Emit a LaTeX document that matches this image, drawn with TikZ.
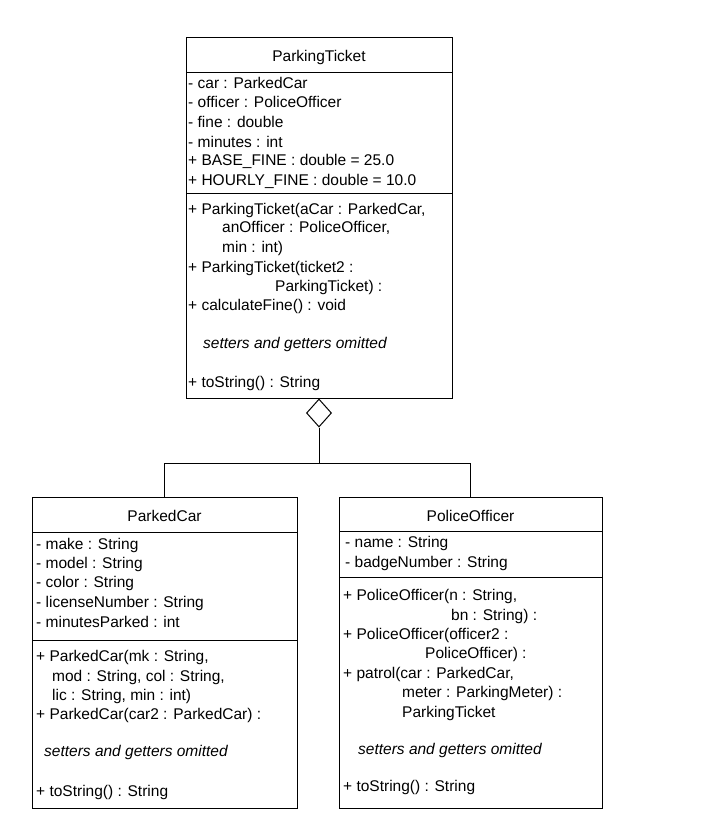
\documentclass[tikz,border=0pt]{standalone}
\usepackage{fontspec}
\setmainfont{Liberation Sans}
\usetikzlibrary{shapes.geometric}
\begin{document}
\begin{tikzpicture}[x=1pt,y=-1pt,
  box/.style={draw,line width=1pt,rectangle,inner sep=0pt},
  t/.style={anchor=west,inner sep=0pt,font=\fontsize{15.5}{18}\selectfont},
  ttl/.style={inner sep=0pt,font=\fontsize{15.5}{18}\selectfont},
  ln/.style={line width=1pt}]
\useasboundingbox (0,0) rectangle (706,827);
% boxes
\node[box,minimum width=266,minimum height=361] (pt) at (319,217.5) {};
\node[box,minimum width=265,minimum height=311] (pc) at (164.5,652.5) {};
\node[box,minimum width=263,minimum height=311] (po) at (470.5,652.5) {};
\draw[ln] (186,72) -- (452,72) (186,193) -- (452,193);
\draw[ln] (32,532) -- (297,532) (32,640) -- (297,640);
\draw[ln] (339,531) -- (602,531) (339,577) -- (602,577);
% aggregation
\node[draw,line width=1pt,diamond,minimum width=25,minimum height=28,inner sep=0pt,anchor=north,fill=white] (dia) at (pt.south) {};
\coordinate (j) at (319,463);
\draw[ln] (dia.south) -- (j);
\draw[ln] (j) -| (pc.north);
\draw[ln] (j) -| (po.north);
% ParkingTicket
\node[ttl] (ptt) at (319,57) {ParkingTicket};
\node[t] (a1) at (188,83) {- car : ParkedCar};
\node[t] (a2) at (188,102) {- officer : PoliceOfficer};
\node[t] (a3) at (188,122) {- fine : double};
\node[t] (a4) at (188,142) {- minutes : int};
\node[t] (a5) at (188,161) {+ BASE\_FINE : double = 25.0};
\node[t] (a6) at (188,181) {+ HOURLY\_FINE : double = 10.0};
\node[t] (m1) at (188,210) {+ ParkingTicket(aCar : ParkedCar,};
\node[t] (m2) at (222,228) {anOfficer : PoliceOfficer,};
\node[t] (m3) at (222,248) {min : int)};
\node[t] (m4) at (188,268) {+ ParkingTicket(ticket2 :};
\node[t] (m5) at (275,287) {ParkingTicket) :};
\node[t] (m6) at (188,306) {+ calculateFine() : void};
\node[t] (m7) at (203,344) {\itshape setters and getters omitted};
\node[t] (m8) at (188,383) {+ toString() : String};
% ParkedCar
\node[ttl] (pct) at (164.5,516) {ParkedCar};
\node[t] (b1) at (36,545) {- make : String};
\node[t] (b2) at (36,564) {- model : String};
\node[t] (b3) at (36,583) {- color : String};
\node[t] (b4) at (36,603) {- licenseNumber : String};
\node[t] (b5) at (36,622) {- minutesParked : int};
\node[t] (c1) at (36,657) {+ ParkedCar(mk : String,};
\node[t] (c2) at (52,677) {mod : String, col : String,};
\node[t] (c3) at (52,696) {lic : String, min : int)};
\node[t] (c4) at (36,715) {+ ParkedCar(car2 : ParkedCar) :};
\node[t] (c5) at (44,752) {\itshape setters and getters omitted};
\node[t] (c6) at (36,792) {+ toString() : String};
% PoliceOfficer
\node[ttl] (pot) at (470.5,516) {PoliceOfficer};
\node[t] (d1) at (345,543) {- name : String};
\node[t] (d2) at (345,563) {- badgeNumber : String};
\node[t] (e1) at (343,596) {+ PoliceOfficer(n : String,};
\node[t] (e2) at (451,616) {bn : String) :};
\node[t] (e3) at (343,635) {+ PoliceOfficer(officer2 :};
\node[t] (e4) at (425,654) {PoliceOfficer) :};
\node[t] (e5) at (343,674) {+ patrol(car : ParkedCar,};
\node[t] (e6) at (402,693) {meter : ParkingMeter) :};
\node[t] (e7) at (402,713) {ParkingTicket};
\node[t] (e8) at (358,750) {\itshape setters and getters omitted};
\node[t] (e9) at (343,787) {+ toString() : String};
\end{tikzpicture}
\end{document}
